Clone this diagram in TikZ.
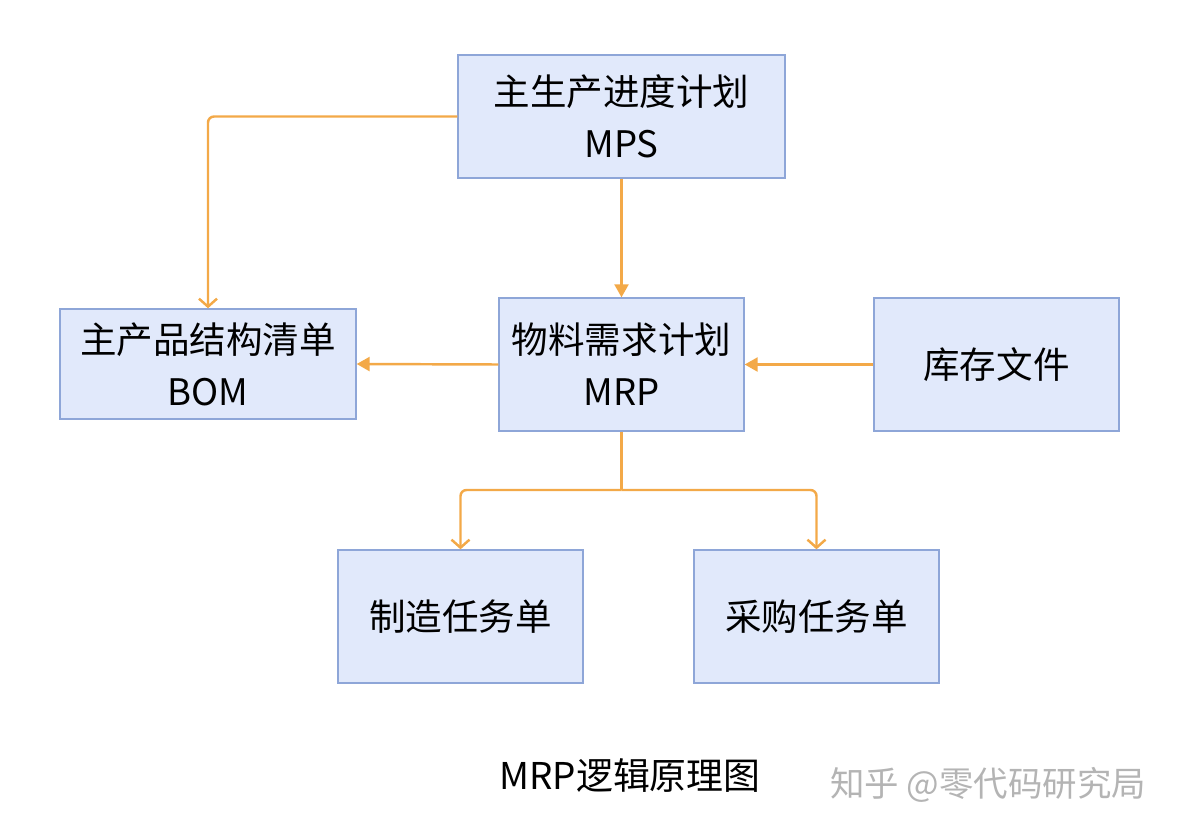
\documentclass[tikz,border=0pt]{standalone}
\usepackage{fontspec}
\setmainfont{Noto Sans CJK SC}
\usetikzlibrary{arrows.meta}

\definecolor{boxfill}{HTML}{E1E9FB}
\definecolor{boxline}{HTML}{8EA6D8}
\definecolor{flow}{HTML}{F3A948}
\definecolor{mark}{HTML}{B4B4B4}

\tikzset{
    block/.style={draw=boxline, fill=boxfill, line width=0.8pt,
        align=center, font=\fontsize{20.8}{29.5}\selectfont, inner sep=0pt},
    link/.style={draw=flow, line width=1.4pt, rounded corners=0.12cm},
    vtip/.style={-{Straight Barb[length=1.6mm,width=3.6mm,line width=1.4pt]}},
    ftip/.style={-{Triangle[length=2.6mm,width=2.8mm]}}
}

\begin{document}
\begin{tikzpicture}[x=0.02cm, y=-0.02cm]
    \useasboundingbox (0,0) rectangle (1178,832);

    % Boxes
    \node[block, minimum width=6.54cm, minimum height=2.46cm] (mps) at (621.5,116.5) {主生产进度计划\\MPS};
    \node[block, minimum width=5.92cm, minimum height=2.2cm] (bom) at (208,364) {主产品结构清单\\BOM};
    \node[block, minimum width=4.9cm, minimum height=2.66cm] (mrp) at (621.5,364.5) {物料需求计划\\MRP};
    \node[block, minimum width=4.9cm, minimum height=2.66cm] (stock) at (996.5,364.5) {库存文件};
    \node[block, minimum width=4.9cm, minimum height=2.66cm] (make) at (460.5,616.5) {制造任务单};
    \node[block, minimum width=4.9cm, minimum height=2.66cm] (buy) at (816.5,616.5) {采购任务单};

    % Connectors
    \draw[link, vtip] (mps.west) -| (bom.north);
    \draw[link, ftip] (mps.south) -- (mrp.north);
    \draw[link, ftip] (mrp.west) -- (bom.east);
    \draw[link, ftip] (stock.west) -- (mrp.east);
    \coordinate (split) at (621.5,490);
    \draw[link] (mrp.south) -- (split);
    \draw[link, vtip] (split) -| (make.north);
    \draw[link, vtip] (split) -| (buy.north);

    % Caption
    \node[font=\fontsize{21}{24}\selectfont] (title) at (630,775) {MRP逻辑原理图};
    \node[font=\fontsize{19.6}{24}\selectfont, text=mark] (credit) at (988,785) {知乎 @零代码研究局};

\end{tikzpicture}
\end{document}
